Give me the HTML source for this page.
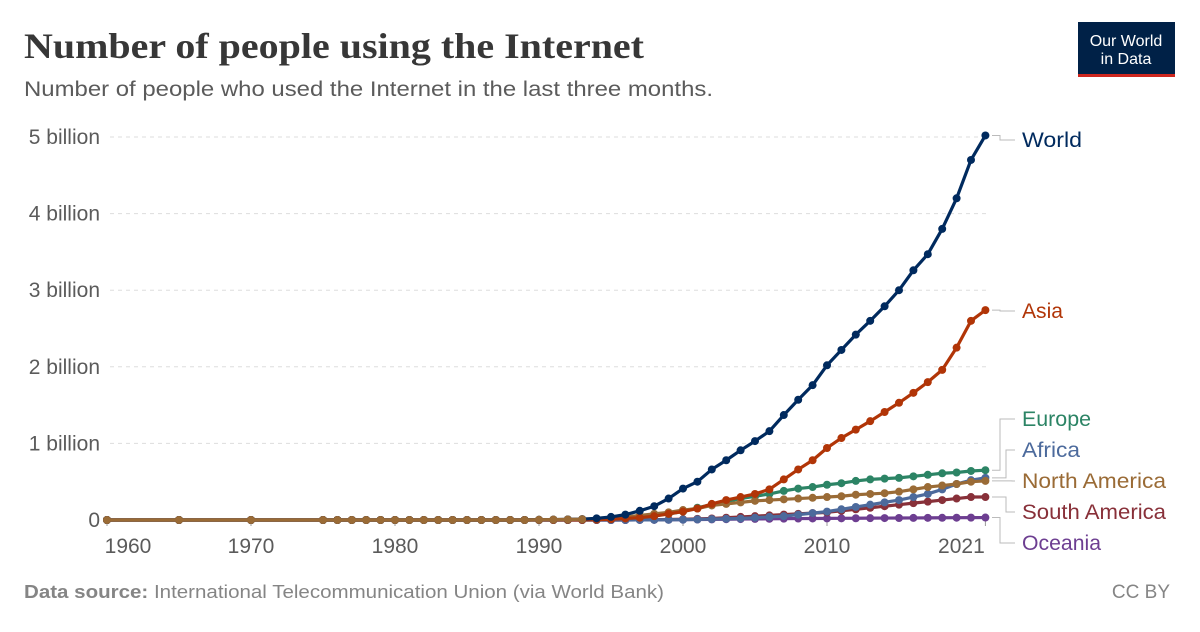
<!DOCTYPE html>
<html><head><meta charset="utf-8"><style>
body{margin:0;background:#fff;font-family:"Liberation Sans",sans-serif}
svg text{font-family:"Liberation Sans",sans-serif}
</style></head><body>
<svg width="1200" height="627" xmlns="http://www.w3.org/2000/svg">
<text x="24" y="58" font-size="36" font-weight="bold" fill="#373737" textLength="620" lengthAdjust="spacingAndGlyphs" style="font-family:'Liberation Serif',serif">Number of people using the Internet</text>
<text x="24" y="96" font-size="21" fill="#5b5b5b" textLength="689" lengthAdjust="spacingAndGlyphs">Number of people who used the Internet in the last three months.</text>
<g><rect x="1078" y="22" width="97" height="55" fill="#002147"/><rect x="1078" y="74" width="97" height="3" fill="#ce261e"/>
<text x="1126" y="46" font-size="16" fill="#fff" text-anchor="middle">Our World</text><text x="1126" y="64" font-size="16" fill="#fff" text-anchor="middle">in Data</text></g>
<g id="grid"></g>
<g id="yt"></g>
<g id="xt"></g>
<g id="series"></g>
<g id="labels"></g>
<text x="24" y="598" font-size="18" fill="#858585" textLength="640" lengthAdjust="spacingAndGlyphs"><tspan font-weight="bold">Data source:</tspan> International Telecommunication Union (via World Bank)</text>
<text x="1170" y="598" font-size="19" fill="#858585" text-anchor="end">CC BY</text>
</svg>
<script>
const yTicks=[0,1,2,3,4,5];
const yTickLabels=["0","1 billion","2 billion","3 billion","4 billion","5 billion"];
const xTicks=[1960,1970,1980,1990,2000,2010,2021];
const years=[1960,1965,1970,1975,1976,1977,1978,1979,1980,1981,1982,1983,1984,1985,1986,1987,1988,1989,1990,1991,1992,1993,1994,1995,1996,1997,1998,1999,2000,2001,2002,2003,2004,2005,2006,2007,2008,2009,2010,2011,2012,2013,2014,2015,2016,2017,2018,2019,2020,2021];
const z18=new Array(18).fill(0);
const world=z18.concat([0.003,0.005,0.008,0.012,0.022,0.04,0.07,0.12,0.18,0.28,0.41,0.5,0.66,0.78,0.91,1.03,1.16,1.37,1.57,1.76,2.02,2.22,2.42,2.6,2.79,3.0,3.26,3.47,3.8,4.2,4.7,5.02]);
const asia=z18.concat([0,0,0.001,0.002,0.004,0.01,0.02,0.03,0.05,0.08,0.11,0.15,0.21,0.26,0.3,0.34,0.4,0.53,0.66,0.78,0.94,1.07,1.18,1.29,1.41,1.53,1.66,1.8,1.96,2.25,2.6,2.74]);
const europe=z18.concat([0.001,0.002,0.003,0.005,0.008,0.015,0.025,0.04,0.06,0.08,0.11,0.16,0.2,0.24,0.28,0.31,0.34,0.38,0.41,0.43,0.46,0.48,0.51,0.53,0.54,0.55,0.57,0.59,0.61,0.62,0.64,0.65]);
const africa=z18.concat([0,0,0,0,0,0,0,0.001,0.002,0.003,0.005,0.008,0.012,0.016,0.02,0.03,0.04,0.05,0.07,0.09,0.11,0.14,0.17,0.2,0.23,0.26,0.3,0.34,0.4,0.47,0.52,0.55]);
const northAmerica=z18.concat([0.003,0.005,0.007,0.01,0.015,0.025,0.04,0.06,0.08,0.1,0.13,0.15,0.19,0.21,0.23,0.25,0.26,0.27,0.28,0.29,0.3,0.31,0.33,0.34,0.35,0.37,0.4,0.43,0.45,0.47,0.5,0.51]);
const southAmerica=z18.concat([0,0,0,0,0,0,0.001,0.002,0.004,0.007,0.01,0.015,0.02,0.03,0.04,0.05,0.06,0.07,0.08,0.09,0.1,0.12,0.14,0.16,0.18,0.2,0.22,0.24,0.26,0.28,0.3,0.3]);
const oceania=z18.concat([0,0,0,0,0,0,0,0.001,0.002,0.003,0.004,0.006,0.008,0.01,0.012,0.014,0.016,0.018,0.019,0.02,0.021,0.022,0.023,0.024,0.025,0.026,0.027,0.028,0.029,0.03,0.031,0.032]);
const NS="http://www.w3.org/2000/svg";
const X=y=>107+(y-1960)*14.4, Y=v=>520-v*76.6;
function mk(t,a,p){const e=document.createElementNS(NS,t);for(const k in a)e.setAttribute(k,a[k]);if(p)p.appendChild(e);return e;}
const grid=document.getElementById('grid'),yt=document.getElementById('yt'),xt=document.getElementById('xt');
yTicks.forEach((v,i)=>{
 if(v>0){const l=mk('line',{x1:110,x2:990,y1:Y(v),y2:Y(v),stroke:'#ddd','stroke-dasharray':'4 4'},grid);}
 const t=mk('text',{x:100,y:Y(v)+7,'font-size':21,fill:'#5b5b5b','text-anchor':'end'},yt);t.textContent=yTickLabels[i];
 
});
xTicks.forEach((yr,i)=>{
 let cx=X(yr); if(i==0)cx+=21; if(i==xTicks.length-1)cx-=24;
 mk('line',{x1:X(yr),x2:X(yr),y1:520,y2:526,stroke:'#999'},xt);
 const t=mk('text',{x:cx,y:553,'font-size':21,fill:'#5b5b5b','text-anchor':'middle'},xt);t.textContent=yr;
 
});
const sers=[oceania,southAmerica,africa,europe,northAmerica,asia,world];
const cols=["#6d3e91","#883039","#4c6a9c","#2c8465","#9a6b36","#b13507","#002a5e"];
const nm=["oceania","south-america","africa","europe","north-america","asia","world"];
const g=document.getElementById('series');
function drawSeries(s,c,name,n){
 const gg=mk('g',{},g);
 mk('polyline',{points:s.slice(0,n).map((v,i)=>X(years[i])+','+Y(v)).join(' '),fill:'none',stroke:c,'stroke-width':3.2,'stroke-linejoin':'round'},gg);
 s.slice(0,n).forEach((v,i)=>{const cc=mk('circle',{cx:X(years[i]),cy:Y(v),r:4,fill:c},gg);});
}
sers.forEach((s,k)=>drawSeries(s,cols[k],nm[k],s.length));
drawSeries(northAmerica,"#9a6b36","north-america-early",22);
const lab=document.getElementById('labels');
const lb=[["World",147,world,"#002a5e",60],["Asia",318,asia,"#b13507",41],["Europe",426,europe,"#2c8465",69],["Africa",457,africa,"#4c6a9c",58],["North America",488,northAmerica,"#9a6b36",144],["South America",519,southAmerica,"#883039",144],["Oceania",550,oceania,"#6d3e91",79]];
lb.forEach(([n,ly,s,c,w])=>{
 const ey=Y(s[s.length-1]);const mx=1000+(n=="Europe"?0:n=="Africa"?6:n=="North America"?12:n=="South America"?6:0);
 mk('polyline',{points:`992,${ey} ${mx},${ey} ${mx},${ly-7} 1015,${ly-7}`,fill:'none',stroke:'#bbb','stroke-width':1},lab);
 const t=mk('text',{x:1022,y:ly,'font-size':21,fill:c,textLength:w,lengthAdjust:'spacingAndGlyphs'},lab);t.textContent=n;
 
});
</script>
</body></html>
